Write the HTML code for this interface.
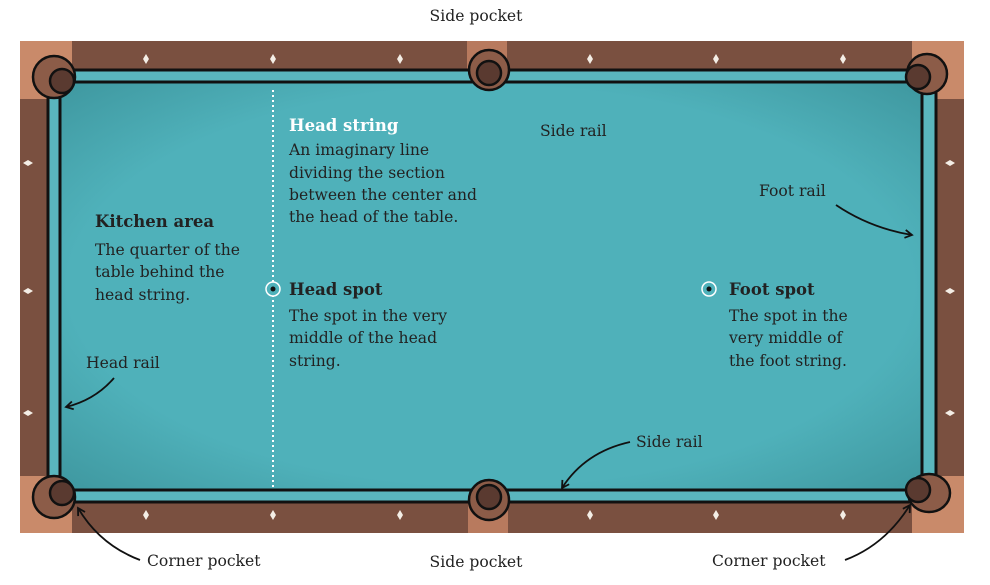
<!DOCTYPE html>
<html><head><meta charset="utf-8"><style>
body{margin:0;background:#fff;}
svg{display:block}
text{font-family:"DejaVu Serif","Liberation Serif",serif;fill:#222;font-size:15.6px}
.b{font-weight:bold;font-size:16.5px}
</style></head><body>
<svg width="990" height="585" viewBox="0 0 990 585">
<defs>
<radialGradient id="felt" cx="50%" cy="50%" r="70%">
<stop offset="0.7" stop-color="#4fb1ba"/><stop offset="1" stop-color="#3f98a0"/></radialGradient>
<marker id="ah" markerWidth="10" markerHeight="10" refX="8" refY="5" orient="auto" markerUnits="userSpaceOnUse"><path d="M1,1 L8,5 L1,9" fill="none" stroke="#111" stroke-width="1.8"/></marker>
</defs>
<rect x="20" y="41" width="944" height="492" fill="#7a5040"/>
<rect x="20" y="41" width="52" height="58" fill="#c98a6a"/>
<rect x="912" y="41" width="52" height="58" fill="#c98a6a"/>
<rect x="20" y="476" width="52" height="57" fill="#c98a6a"/>
<rect x="912" y="476" width="52" height="57" fill="#c98a6a"/>
<rect x="467" y="41" width="40" height="30" fill="#b87a5e"/>
<rect x="468" y="500" width="40" height="33" fill="#b87a5e"/>
<rect x="48" y="70" width="888" height="432" fill="#5ab6be" stroke="#111" stroke-width="3"/>
<rect x="60" y="82" width="862" height="408" fill="url(#felt)" stroke="#111" stroke-width="3"/>
<g fill="#f4eee6">
<path d="M146,54 l3,5 -3,5 -3,-5z"/><path d="M273,54 l3,5 -3,5 -3,-5z"/><path d="M400,54 l3,5 -3,5 -3,-5z"/>
<path d="M590,54 l3,5 -3,5 -3,-5z"/><path d="M716,54 l3,5 -3,5 -3,-5z"/><path d="M843,54 l3,5 -3,5 -3,-5z"/>
<path d="M146,510 l3,5 -3,5 -3,-5z"/><path d="M273,510 l3,5 -3,5 -3,-5z"/><path d="M400,510 l3,5 -3,5 -3,-5z"/>
<path d="M590,510 l3,5 -3,5 -3,-5z"/><path d="M716,510 l3,5 -3,5 -3,-5z"/><path d="M843,510 l3,5 -3,5 -3,-5z"/>
<path d="M28,160 l5,3 -5,3 -5,-3z"/><path d="M28,288 l5,3 -5,3 -5,-3z"/><path d="M28,410 l5,3 -5,3 -5,-3z"/>
<path d="M950,160 l5,3 -5,3 -5,-3z"/><path d="M950,288 l5,3 -5,3 -5,-3z"/><path d="M950,410 l5,3 -5,3 -5,-3z"/>
</g>
<g stroke="#111" stroke-width="2.5">
<circle cx="54" cy="77" r="21" fill="#8c5c48"/><circle cx="62" cy="81" r="12" fill="#5a3a30"/>
<circle cx="927" cy="74" r="20" fill="#8c5c48"/><circle cx="918" cy="77" r="12" fill="#5a3a30"/>
<circle cx="489" cy="70" r="20" fill="#8c5c48"/><circle cx="489" cy="73" r="12" fill="#5a3a30"/>
<circle cx="54" cy="497" r="21" fill="#8c5c48"/><circle cx="62" cy="493" r="12" fill="#5a3a30"/>
<circle cx="489" cy="500" r="20" fill="#8c5c48"/><circle cx="489" cy="497" r="12" fill="#5a3a30"/>
<ellipse cx="929" cy="493" rx="21" ry="19" fill="#8c5c48"/><circle cx="918" cy="490" r="12" fill="#5a3a30"/>
</g>
<line x1="273" y1="90" x2="273" y2="488" stroke="#fff" stroke-width="2" stroke-dasharray="2,3"/>
<circle cx="273" cy="289" r="7" fill="#4fb1ba" stroke="#fff" stroke-width="1.5"/><circle cx="273" cy="289" r="2.5" fill="#111"/>
<circle cx="709" cy="289" r="7" fill="#4fb1ba" stroke="#fff" stroke-width="1.5"/><circle cx="709" cy="289" r="2.5" fill="#111"/>
<text x="476" y="21" text-anchor="middle">Side pocket</text>
<text x="476" y="567" text-anchor="middle">Side pocket</text>
<text x="147" y="566">Corner pocket</text>
<text x="712" y="566">Corner pocket</text>
<text x="540" y="136">Side rail</text>
<text x="636" y="447">Side rail</text>
<text x="759" y="196">Foot rail</text>
<text x="86" y="368">Head rail</text>
<text x="289" y="131" class="b" style="fill:#fff">Head string</text>
<text x="289" y="155">An imaginary line</text>
<text x="289" y="178">dividing the section</text>
<text x="289" y="200">between the center and</text>
<text x="289" y="222">the head of the table.</text>
<text x="95" y="227" class="b">Kitchen area</text>
<text x="95" y="255">The quarter of the</text>
<text x="95" y="277">table behind the</text>
<text x="95" y="300">head string.</text>
<text x="289" y="295" class="b">Head spot</text>
<text x="289" y="321">The spot in the very</text>
<text x="289" y="343">middle of the head</text>
<text x="289" y="366">string.</text>
<text x="729" y="295" class="b">Foot spot</text>
<text x="729" y="321">The spot in the</text>
<text x="729" y="343">very middle of</text>
<text x="729" y="366">the foot string.</text>
<g fill="none" stroke="#111" stroke-width="1.8" marker-end="url(#ah)">
<path d="M836,205 Q870,228 912,235"/>
<path d="M114,378 Q95,400 66,407"/>
<path d="M630,442 Q585,452 562,488"/>
<path d="M140,560 Q100,545 78,508"/>
<path d="M845,560 Q885,545 910,505"/>
</g>
</svg>
</body></html>
